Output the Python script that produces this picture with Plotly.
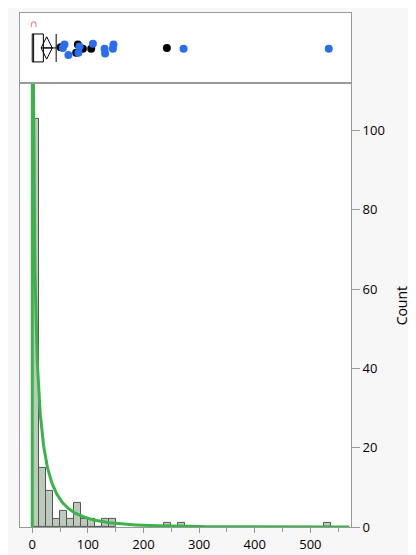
import numpy as np
import plotly.graph_objects as go

bin_starts = [0, 12.5, 25, 37.5, 50, 62.5, 75, 87.5, 100, 112.5, 125, 137.5, 237.5, 262.5, 525]
counts = [103, 15, 9, 2, 4, 2, 6, 2, 2, 0, 2, 2, 1, 1, 1]
bin_width = 12.5

black_x = [51, 82, 79, 91, 106, 242]
black_y = [0.51, 0.55, 0.43, 0.49, 0.49, 0.5]
blue_x = [58, 55, 65, 85, 83, 109, 130, 131, 146, 145, 272, 533]
blue_y = [0.55, 0.5, 0.4, 0.52, 0.43, 0.56, 0.49, 0.42, 0.55, 0.49, 0.49, 0.49]

box_q1, box_median, box_q3, box_upper = 0, 2.5, 20, 43
mean_lo, mean_val, mean_hi = 16, 26, 36

# fitted Weibull parameters
wb_shape, wb_scale = 0.6, 20.0
n_total = sum(counts)

xs = np.concatenate([[0.0], np.linspace(0.3, 570, 1200)])
dens = (wb_shape / wb_scale) * (xs / wb_scale) ** (wb_shape - 1) * np.exp(-(xs / wb_scale) ** wb_shape)
dens[0] = 0
fit_y = dens * n_total * bin_width

fig = go.Figure()
fig.add_trace(go.Bar(x=[b + bin_width / 2 for b in bin_starts], y=counts, width=bin_width,
                     marker=dict(color="#bccabc", line=dict(color="#555555", width=1)),
                     xaxis="x", yaxis="y", showlegend=False))
fig.add_trace(go.Scatter(x=xs, y=fit_y, mode="lines", line=dict(color="#3bb34a", width=3),
                         xaxis="x", yaxis="y", showlegend=False, cliponaxis=True))
fig.add_trace(go.Scatter(x=black_x, y=black_y, mode="markers", marker=dict(color="black", size=8),
                         xaxis="x2", yaxis="y2", showlegend=False))
fig.add_trace(go.Scatter(x=blue_x, y=blue_y, mode="markers", marker=dict(color="#2a6ef0", size=8),
                         xaxis="x2", yaxis="y2", showlegend=False))
fig.add_trace(go.Scatter(x=[mean_lo, mean_val, mean_hi, mean_val, mean_lo], y=[0.5, 0.66, 0.5, 0.34, 0.5],
                         mode="lines", line=dict(color="black", width=1), xaxis="x2", yaxis="y2", showlegend=False))
fig.add_trace(go.Scatter(x=[mean_lo, mean_hi], y=[0.5, 0.5], mode="lines", line=dict(color="black", width=1),
                         xaxis="x2", yaxis="y2", showlegend=False))
fig.add_trace(go.Scatter(x=[box_median], y=[0.84], mode="text", text=["∩"], textfont=dict(color="red", size=11),
                         xaxis="x2", yaxis="y2", showlegend=False))

shapes = [
    dict(type="rect", xref="x2", yref="y2", x0=box_q1, x1=box_q3, y0=0.3, y1=0.7,
         line=dict(color="black", width=1)),
    dict(type="line", xref="x2", yref="y2", x0=box_median, x1=box_median, y0=0.3, y1=0.7,
         line=dict(color="black", width=1)),
    dict(type="line", xref="x2", yref="y2", x0=box_q3, x1=box_upper, y0=0.5, y1=0.5,
         line=dict(color="black", width=1)),
    dict(type="line", xref="x2", yref="y2", x0=box_upper, x1=box_upper, y0=0.3, y1=0.7,
         line=dict(color="black", width=1)),
]

xr = [-22, 573]
fig.update_layout(
    width=416, height=555, margin=dict(l=12, r=73, t=5, b=36, autoexpand=False),
    paper_bgcolor="#f7f7f7", plot_bgcolor="white", bargap=0, shapes=shapes,
    font=dict(family="Open Sans", size=13, color="black"),
    xaxis=dict(domain=[0, 1], range=xr, tickvals=[0, 100, 200, 300, 400, 500], ticks="outside",
               ticklen=5, tickcolor="#999", showline=True, linecolor="#999", mirror=True,
               showgrid=False, zeroline=False, anchor="y", automargin=False,
               minor=dict(dtick=50, tick0=0, ticks="outside", ticklen=4, tickcolor="#999")),
    yaxis=dict(domain=[0, 0.864], range=[0, 112], side="right", tickvals=[0, 20, 40, 60, 80, 100],
               ticks="outside", ticklen=8, tickcolor="#999", showline=True, linecolor="#999",
               mirror=True, showgrid=False, zeroline=False, automargin=False),
    xaxis2=dict(domain=[0, 1], range=xr, showticklabels=False, showline=True, linecolor="#999",
                mirror=True, showgrid=False, zeroline=False, anchor="y2", ticks=""),
    yaxis2=dict(domain=[0.864, 1], range=[0, 1], showticklabels=False, showline=True,
                linecolor="#999", mirror=True, showgrid=False, zeroline=False, ticks=""),
    annotations=[dict(text="Count", xref="paper", yref="paper", x=1.19, y=0.43, textangle=-90,
                      showarrow=False, font=dict(size=14))],
)
fig.write_html("out.html")
